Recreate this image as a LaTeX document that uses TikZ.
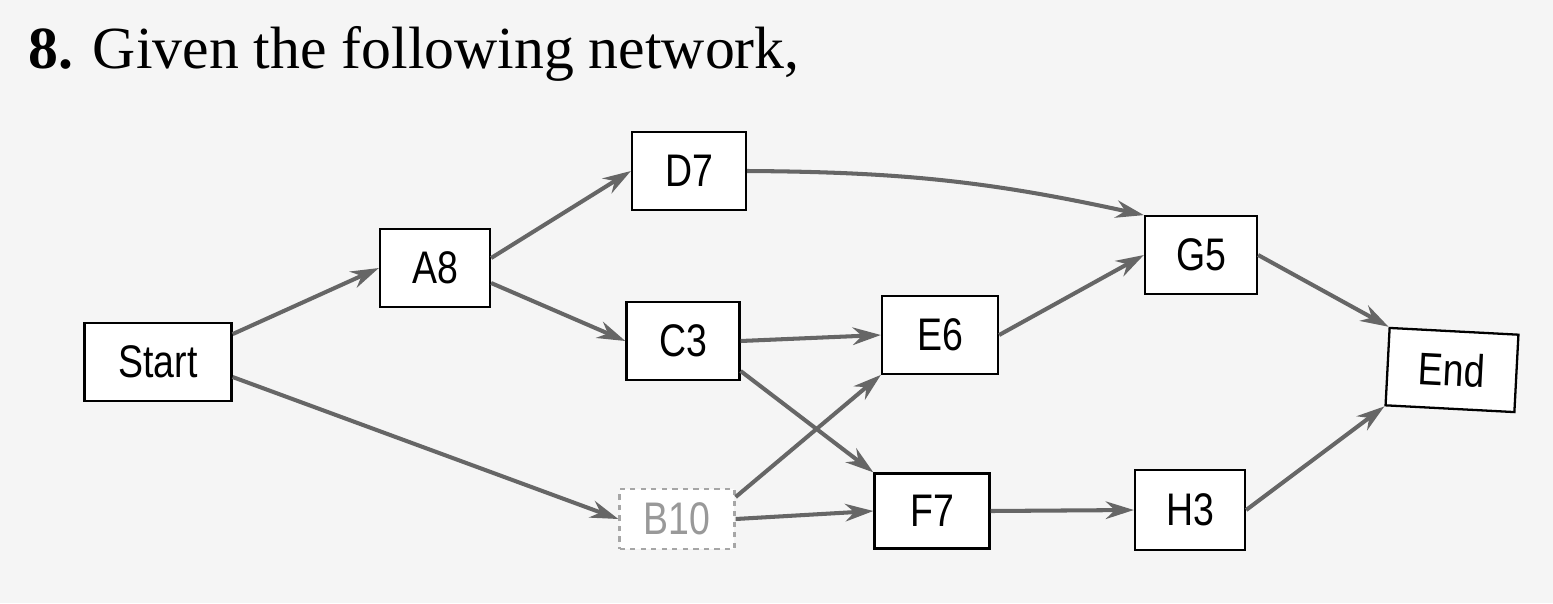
\documentclass[tikz,border=0pt]{standalone}
\usepackage{fontspec}
\setmainfont{Liberation Serif}
\newfontfamily\boxfont[FakeStretch=0.82]{Liberation Sans}
\usetikzlibrary{arrows.meta}
\begin{document}
\begin{tikzpicture}[x=0.02cm,y=-0.02cm,
  box/.style={draw=black,line width=1.3pt,fill=white,minimum height=1.55cm,inner sep=0pt,font=\boxfont\fontsize{26}{28}\selectfont},
  arr/.style={draw=black!60,line width=2.3pt,-{Stealth[length=16pt,width=10pt]}}]
\fill[black!4] (0,0) rectangle (1553,603);
\useasboundingbox (0,0) rectangle (1553,603);
\node[anchor=base west,font=\fontsize{34}{36}\selectfont] (title) at (22,68) {\textbf{8.} Given the following network,};
\node[box,minimum width=2.94cm] (start) at (158,362) {Start};
\node[box,minimum width=2.2cm] (a8) at (435,268) {A8};
\node[box,minimum width=2.28cm] (d7) at (689,171) {D7};
\node[box,minimum width=2.26cm] (c3) at (683,341) {C3};
\node[box,minimum width=2.32cm] (e6) at (940,335) {E6};
\node[box,minimum width=2.24cm] (g5) at (1201,255) {G5};
\node[box,minimum width=2.58cm,rotate=-3] (end) at (1452,370) {End};
\node[box,minimum width=2.3cm,minimum height=1.2cm,draw=black!35,text=black!40,dashed] (b10) at (677,519) {B10};
\node[box,minimum width=2.3cm,minimum height=1.5cm] (f7) at (932,511) {F7};
\node[box,minimum width=2.2cm,minimum height=1.6cm] (h3) at (1190,510) {H3};
\draw[arr] (start.north east) ++(0,12) -- (a8.west);
\draw[arr] (start.east) ++(0,15) -- (b10.west);
\draw[arr] (a8.east) ++(0,-10) -- (d7.west);
\draw[arr] (a8.east) ++(0,15) -- (c3.west);
\draw[arr] (d7.east) to[bend left=6] (g5.north west);
\draw[arr] (c3.east) -- (e6.west);
\draw[arr] (c3.east) ++(0,30) -- (f7.north west);
\draw[arr] (b10.east) ++(0,-22) -- (e6.south west);
\draw[arr] (b10.east) -- (f7.west);
\draw[arr] (e6.east) -- (g5.west);
\draw[arr] (f7.east) -- (h3.west);
\draw[arr] (g5.east) -- (end.north west);
\draw[arr] (h3.east) -- (end.south west);
\end{tikzpicture}
\end{document}
